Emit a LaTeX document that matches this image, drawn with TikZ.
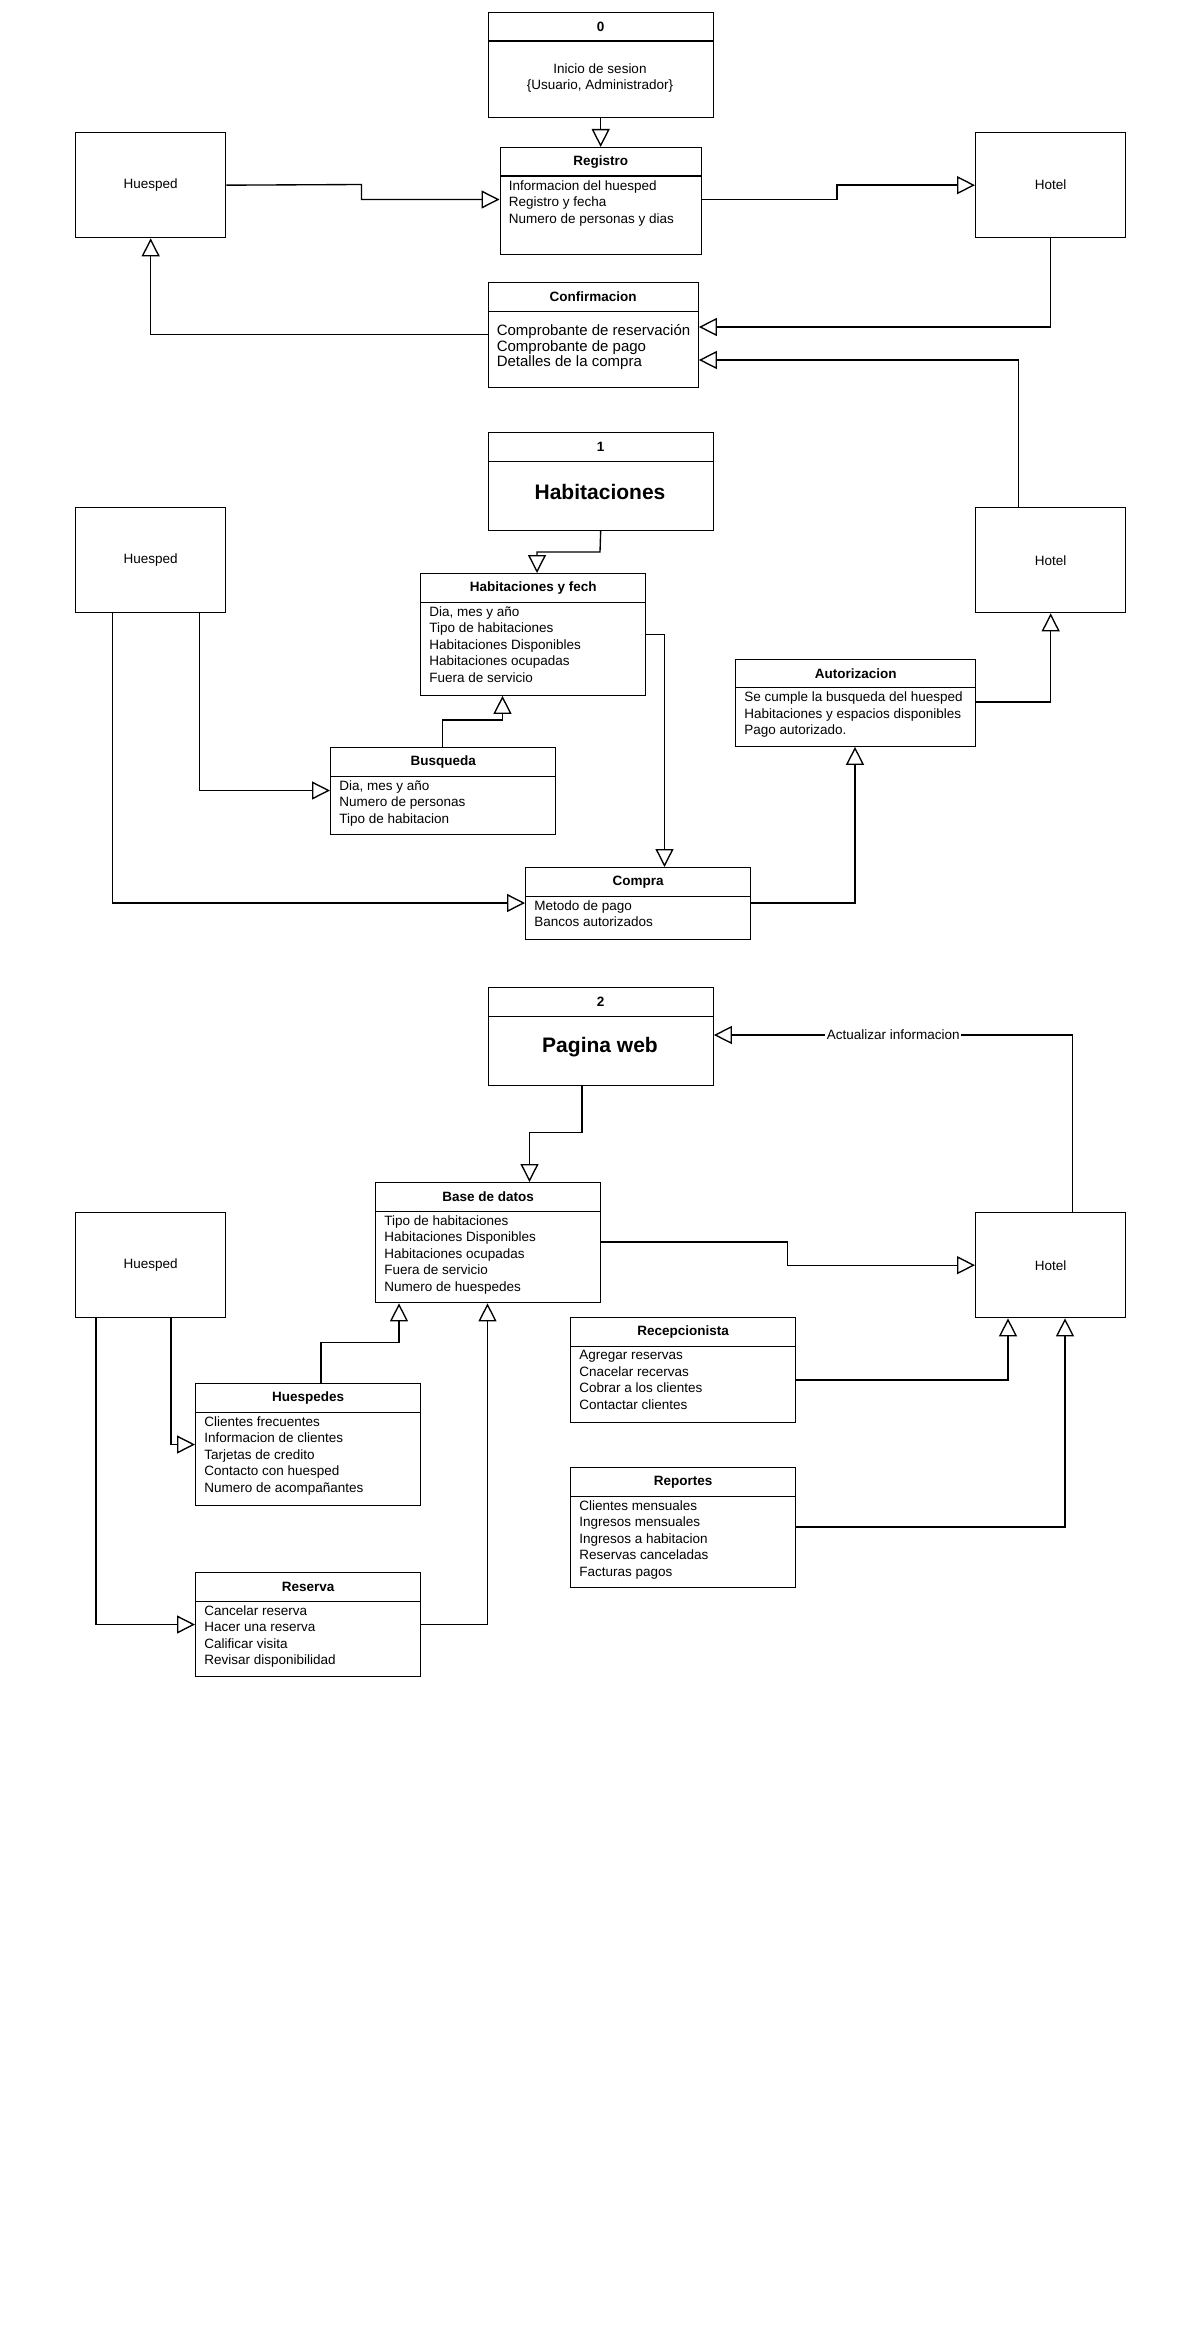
\documentclass[tikz,border=0pt]{standalone}
\usepackage{fontspec}
\setmainfont{Liberation Sans}
\usetikzlibrary{arrows.meta}

\tikzset{
  box/.style={draw, line width=0.9pt, inner sep=0pt},
  tri/.style={-{Triangle[open,length=12pt,width=12pt]}, line width=0.9pt},
  txt/.style={anchor=north west, align=left, inner sep=0pt, font=\fontsize{9}{11}\selectfont},
}
% class box: name, x, y, width, height, title, body
\newcommand\ubox[7]{%
  \node[box, minimum width=#4pt, minimum height=#5pt, anchor=north west] (#1) at (#2,#3) {};
  \node[box, minimum width=#4pt, minimum height=19pt, anchor=north west,
        font=\fontsize{9}{11}\selectfont\bfseries] (#1t) at (#2,#3) {#6};
  \node[txt] (#1b) at ([xshift=6pt,yshift=-22pt]#1.north west) {#7};
}
\newcommand\actor[4]{% name, x, y, label
  \node[box, minimum width=100pt, minimum height=70pt, anchor=north west,
        font=\fontsize{9}{11}\selectfont] (#1) at (#2,#3) {#4};
}

\begin{document}
\begin{tikzpicture}[x=1pt, y=-1pt]
  \useasboundingbox[fill=white] (0,0) rectangle (800,1568);

  % level 0
  \ubox{lv0}{325}{8}{150}{70}{0}{}
  \node[font=\fontsize{9}{11}\selectfont, align=center] at (400,52) {Inicio de sesion\\\{Usuario, Administrador\}};
  \ubox{reg}{333}{98}{134}{71}{Registro}{Informacion del huesped\\Registro y fecha\\Numero de personas y dias}
  \actor{hue0}{50}{88}{Huesped}
  \actor{hot0}{650}{88}{Hotel}
  \ubox{conf}{325}{188}{140}{70}{Confirmacion}{}
  \node[txt, font=\fontsize{10}{10.5}\selectfont] at (331,216) {Comprobante de reservación\\Comprobante de pago\\Detalles de la compra};

  \draw[tri] (lv0.south) -- (reg.north);
  \draw[tri] (hue0.east) -- (241,123) |- (reg.west |- 0,133);
  \draw[tri] (reg.east |- 0,133) -- (558,133) |- (hot0.west);
  \draw[tri] (hot0.south) |- (conf.east |- 0,218);
  \draw[tri] (conf.west |- 0,223) -| (hue0.south);

  % level 1
  \ubox{lv1}{325}{288}{150}{65}{1}{}
  \node[font=\fontsize{14}{16}\selectfont\bfseries] at (400,328) {Habitaciones};
  \ubox{hab}{280}{382}{150}{81}{Habitaciones y fech}{Dia, mes y año\\Tipo de habitaciones\\Habitaciones Disponibles\\Habitaciones ocupadas\\Fuera de servicio}
  \actor{hue1}{50}{338}{Huesped}
  \actor{hot1}{650}{338}{Hotel}
  \ubox{bus}{220}{498}{150}{58}{Busqueda}{Dia, mes y año\\Numero de personas\\Tipo de habitacion}
  \ubox{aut}{490}{439}{160}{58}{Autorizacion}{Se cumple la busqueda del huesped\\Habitaciones y espacios disponibles\\Pago autorizado.}
  \ubox{com}{350}{578}{150}{48}{Compra}{Metodo de pago\\Bancos autorizados}

  \draw[tri] (lv1.south) -- (400,368) -| (358,382);
  \draw[tri] (hot1.north -| 679,0) |- (conf.east |- 0,240);
  \draw[tri] (bus.north -| 295,0) -- (295,480) -| (hab.south -| 335,0);
  \draw[tri] (hue1.south -| 133,0) |- (bus.west |- 0,527);
  \draw[tri] (hue1.south -| 75,0) |- (com.west |- 0,602);
  \draw[tri] (hab.east |- 0,423) -| (com.north -| 443,0);
  \draw[tri] (com.east |- 0,602) -| (aut.south -| 570,0);
  \draw[tri] (aut.east |- 0,468) -| (hot1.south);

  % level 2
  \ubox{lv2}{325}{658}{150}{65}{2}{}
  \node[font=\fontsize{14}{16}\selectfont\bfseries] at (400,698) {Pagina web};
  \ubox{bd}{250}{788}{150}{80}{Base de datos}{Tipo de habitaciones\\Habitaciones Disponibles\\Habitaciones ocupadas\\Fuera de servicio\\Numero de huespedes}
  \actor{hue2}{50}{808}{Huesped}
  \actor{hot2}{650}{808}{Hotel}
  \ubox{hsp}{130}{922}{150}{81}{Huespedes}{Clientes frecuentes\\Informacion de clientes\\Tarjetas de credito\\Contacto con huesped\\Numero de acompañantes}
  \ubox{res}{130}{1048}{150}{69}{Reserva}{Cancelar reserva\\Hacer una reserva\\Calificar visita\\Revisar disponibilidad}
  \ubox{rec}{380}{878}{150}{70}{Recepcionista}{Agregar reservas\\Cnacelar recervas\\Cobrar a los clientes\\Contactar clientes}
  \ubox{rep}{380}{978}{150}{80}{Reportes}{Clientes mensuales\\Ingresos mensuales\\Ingresos a habitacion\\Reservas canceladas\\Facturas pagos}

  \draw[tri] (lv2.south -| 388,0) -- (388,755) -| (bd.north -| 353,0);
  \draw[tri] (hot2.north -| 715,0) |- node[pos=0.75, fill=white, inner sep=1pt, font=\fontsize{9}{11}\selectfont] {Actualizar informacion} (lv2.east |- 0,690);
  \draw[tri] (bd.east |- 0,828) -- (525,828) |- (hot2.west);
  \draw[tri] (hsp.north -| 214,0) -- (214,895) -| (bd.south -| 266,0);
  \draw[tri] (res.east |- 0,1083) -| (bd.south -| 325,0);
  \draw[tri] (hue2.south -| 114,0) |- (hsp.west |- 0,963);
  \draw[tri] (hue2.south -| 64,0) |- (res.west |- 0,1083);
  \draw[tri] (rec.east |- 0,920) -| (hot2.south -| 672,0);
  \draw[tri] (rep.east |- 0,1018) -| (hot2.south -| 710,0);
\end{tikzpicture}
\end{document}
